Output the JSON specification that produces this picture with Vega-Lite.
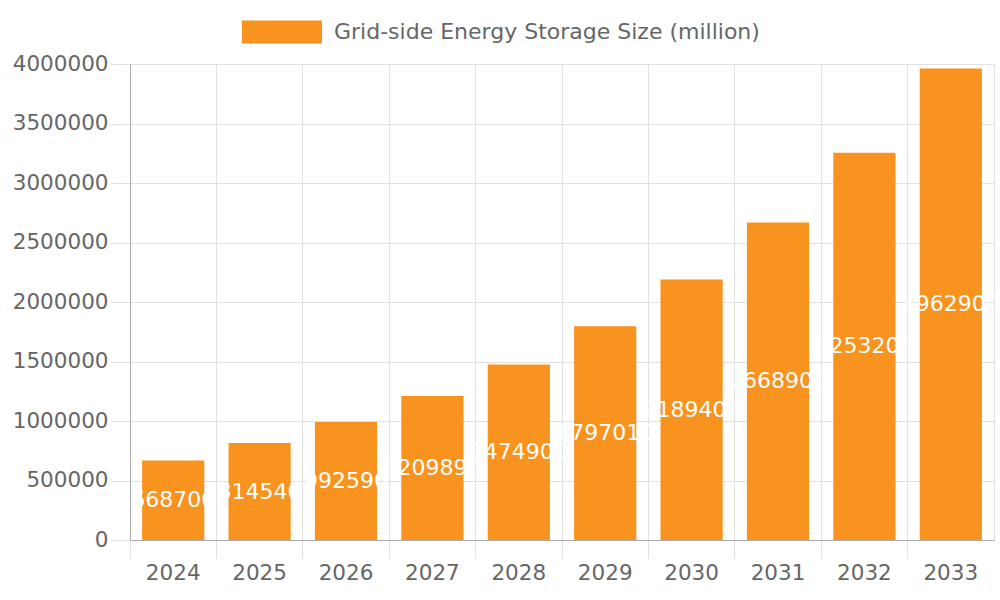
{
  "$schema": "https://vega.github.io/schema/vega-lite/v6.json",
  "autosize": "none",
  "width": 864,
  "height": 476,
  "padding": {"left": 130, "top": 64, "right": 6, "bottom": 60},
  "background": "white",
  "config": {
    "font": "DejaVu Sans",
    "view": {"stroke": "#e0e0e0"}
  },
  "data": {
    "values": [
      {"year": "2024", "value": 668700},
      {"year": "2025", "value": 814540},
      {"year": "2026", "value": 992590},
      {"year": "2027", "value": 1209890},
      {"year": "2028", "value": 1474900},
      {"year": "2029", "value": 1797010},
      {"year": "2030", "value": 2189400},
      {"year": "2031", "value": 2668900},
      {"year": "2032", "value": 3253200},
      {"year": "2033", "value": 3962900}
    ]
  },
  "encoding": {
    "x": {
      "field": "year",
      "type": "ordinal",
      "scale": {"paddingInner": 0.28, "paddingOuter": 0.14},
      "axis": {
        "title": null,
        "bandPosition": -0.1944,
        "labelAngle": 0,
        "labelFontSize": 21.5,
        "labelColor": "#666",
        "labelPadding": 4,
        "tickSize": 18,
        "tickColor": "#e0e0e0",
        "gridColor": "#e0e0e0",
        "grid": true,
        "domainColor": "#aaa"
      }
    }
  },
  "layer": [
    {
      "mark": {"type": "bar", "color": "#F7931E"},
      "encoding": {
        "y": {
          "field": "value",
          "type": "quantitative",
          "scale": {"domain": [0, 4000000], "nice": false},
          "axis": {
            "title": null,
            "values": [0, 500000, 1000000, 1500000, 2000000, 2500000, 3000000, 3500000, 4000000],
            "format": "d",
            "labelFontSize": 21.5,
            "labelColor": "#666",
            "labelPadding": 2,
            "tickSize": 20,
            "tickColor": "#e0e0e0",
            "gridColor": "#e0e0e0",
            "domainColor": "#aaa"
          }
        },
        "color": {
          "datum": "Grid-side Energy Storage Size (million)",
          "scale": {"range": ["#F7931E"]},
          "legend": {
            "title": null,
            "orient": "none",
            "legendX": 112,
            "legendY": -72,
            "symbolType": "M-1,-0.2875H1V0.2875H-1Z",
            "symbolSize": 6400,
            "symbolStrokeWidth": 0,
            "symbolOpacity": 1,
            "labelFontSize": 22,
            "labelColor": "#666",
            "labelOffset": 12,
            "labelLimit": 600
          }
        }
      }
    },
    {
      "transform": [{"calculate": "datum.value / 2", "as": "mid"}],
      "mark": {"type": "text", "color": "white", "fontSize": 22, "baseline": "middle", "align": "center"},
      "encoding": {
        "y": {"field": "mid", "type": "quantitative"},
        "text": {"field": "value", "type": "quantitative", "format": "d"}
      }
    }
  ]
}
